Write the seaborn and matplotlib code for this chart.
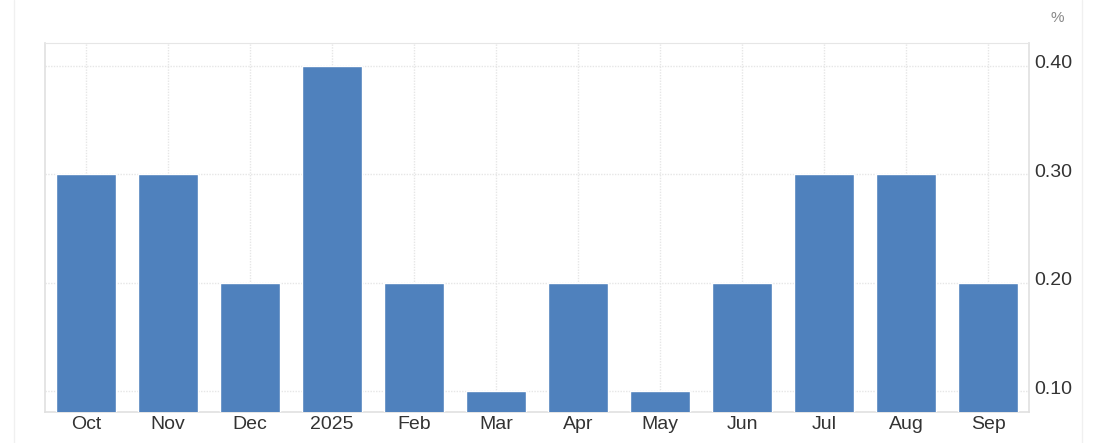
import seaborn as sns
import matplotlib.pyplot as plt
import matplotlib.transforms as mtrans
import pandas as pd

months = ['Oct', 'Nov', 'Dec', '2025', 'Feb', 'Mar', 'Apr', 'May', 'Jun', 'Jul', 'Aug', 'Sep']
values = [0.3, 0.3, 0.2, 0.4, 0.2, 0.1, 0.2, 0.1, 0.2, 0.3, 0.3, 0.2]
yticks = [0.10, 0.20, 0.30, 0.40]

df = pd.DataFrame({'month': months, 'value': values})

sns.set_style('white')
plt.rcParams['font.family'] = ['Liberation Sans', 'DejaVu Sans']

fig = plt.figure(figsize=(10.95, 4.43), dpi=100)
ax = fig.add_axes([45 / 1095, 31 / 443, 984 / 1095, 369 / 443])

sns.barplot(data=df, x='month', y='value', color='#4f81bd', saturation=1,
            width=0.73, ax=ax, zorder=3)

ax.set_ylim(0.0807, 0.421)
ax.set_xlim(-0.5, len(months) - 0.5)
ax.set_yticks(yticks)
ax.set_yticklabels([f'{t:.2f}' for t in yticks])
ax.yaxis.tick_right()
ax.set_xlabel('')
ax.set_ylabel('')

# dotted light grid, vertical lines at bar centres
ax.grid(True, color='#e6e6e6', linestyle=(0, (1, 1)), linewidth=1, zorder=0)
ax.set_axisbelow(True)

ax.spines['top'].set_color('#e6e6e6')
ax.spines['top'].set_linestyle((0, (1, 1)))
for side in ['left', 'right', 'bottom']:
    ax.spines[side].set_visible(True)
    ax.spines[side].set_color('#e0e0e0')
    ax.spines[side].set_linewidth(1.2)

ax.tick_params(axis='both', length=0, labelsize=14, colors='#333333')
ax.tick_params(axis='y', pad=4)
ax.tick_params(axis='x', pad=3)

# y labels sit a little above their grid lines
shift = mtrans.ScaledTranslation(0, 4 / 100, fig.dpi_scale_trans)
for lab in ax.get_yticklabels():
    lab.set_transform(lab.get_transform() + shift)

fig.text(1057 / 1095, 1 - 18 / 443, '%', color='#888888', fontsize=11,
         ha='center', va='center')

# faint outer frame lines
fig.add_artist(plt.Line2D([14 / 1095, 14 / 1095], [0, 1], color='#f0f0f0', lw=1))
fig.add_artist(plt.Line2D([1082 / 1095, 1082 / 1095], [0, 1], color='#f0f0f0', lw=1))

fig.savefig('out.png', dpi=100)
